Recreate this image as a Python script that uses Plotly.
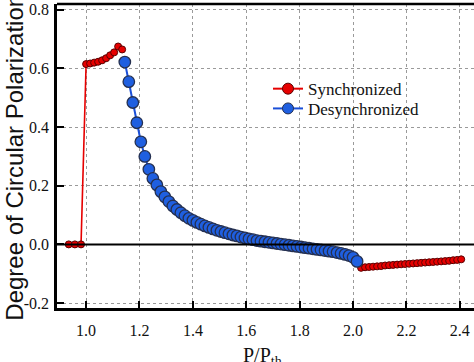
import plotly.graph_objects as go

# --- data ---
sync_x_low = [0.935, 0.958, 0.981, 1.000, 1.015, 1.030, 1.045, 1.060, 1.075, 1.090, 1.105, 1.120, 1.135]
sync_y_low = [0.0, 0.0, 0.0, 0.615, 0.617, 0.620, 0.623, 0.628, 0.635, 0.645, 0.655, 0.675, 0.665]

desync_x = [1.145, 1.160, 1.175, 1.190, 1.205, 1.220, 1.235, 1.250, 1.265, 1.280,
            1.295, 1.310, 1.325, 1.340, 1.355, 1.370, 1.385, 1.400, 1.415, 1.430,
            1.445, 1.460, 1.475, 1.490, 1.505, 1.520, 1.535, 1.550, 1.565, 1.580,
            1.595, 1.610, 1.625, 1.640, 1.655, 1.670, 1.685, 1.700, 1.715, 1.730,
            1.745, 1.760, 1.775, 1.790, 1.805, 1.820, 1.835, 1.850, 1.865, 1.880,
            1.895, 1.910, 1.925, 1.940, 1.955, 1.970, 1.985, 2.000, 2.015]
desync_y = [0.622, 0.555, 0.484, 0.415, 0.350, 0.300, 0.256, 0.225, 0.203, 0.180,
            0.162, 0.146, 0.131, 0.119, 0.108, 0.098, 0.089, 0.082, 0.075, 0.069,
            0.063, 0.058, 0.053, 0.048, 0.044, 0.040, 0.036, 0.032, 0.029, 0.025,
            0.022, 0.019, 0.016, 0.013, 0.011, 0.009, 0.007, 0.005, 0.003, 0.001,
            -0.001, -0.003, -0.005, -0.007, -0.009, -0.011, -0.013, -0.015, -0.017, -0.019,
            -0.021, -0.023, -0.025, -0.028, -0.031, -0.034, -0.038, -0.044, -0.058]

sync_x_high = [2.030, 2.045, 2.060, 2.075, 2.090, 2.105, 2.120, 2.135, 2.150, 2.165,
               2.180, 2.195, 2.210, 2.225, 2.240, 2.255, 2.270, 2.285, 2.300, 2.315,
               2.330, 2.345, 2.360, 2.375, 2.390, 2.405]
sync_y_high = [-0.080, -0.078, -0.077, -0.076, -0.075, -0.074, -0.072, -0.071, -0.070, -0.069,
               -0.068, -0.067, -0.066, -0.065, -0.064, -0.063, -0.062, -0.061, -0.060, -0.059,
               -0.058, -0.057, -0.056, -0.054, -0.053, -0.051]

x_ticks = [1.0, 1.2, 1.4, 1.6, 1.8, 2.0, 2.2, 2.4]
y_ticks = [-0.2, 0.0, 0.2, 0.4, 0.6, 0.8]
x_range = [0.891, 2.453]
y_range = [-0.217, 0.82]

RED = "#e60000"
RED_EDGE = "#5a0000"
BLUE = "#1f5fe0"
BLUE_LINE = "#1a4fd8"
BLUE_EDGE = "#253050"
SERIF = "Liberation Serif, Times New Roman, serif"
SANS = "Liberation Sans, Arial, sans-serif"

fig = go.Figure()

# synchronized (two segments)
fig.add_trace(go.Scatter(
    x=sync_x_low + [None] + sync_x_high,
    y=sync_y_low + [None] + sync_y_high,
    mode="lines+markers", showlegend=False,
    line=dict(color=RED, width=1.6),
    marker=dict(size=7, color=RED, line=dict(color=RED_EDGE, width=1)),
))
# desynchronized
fig.add_trace(go.Scatter(
    x=desync_x, y=desync_y,
    mode="lines+markers", showlegend=False,
    line=dict(color=BLUE_LINE, width=2),
    marker=dict(size=11.5, color=BLUE, line=dict(color=BLUE_EDGE, width=1.3)),
))

# legend entries
fig.add_trace(go.Scatter(
    x=[None], y=[None], name="Synchronized", mode="lines+markers",
    line=dict(color=RED, width=2),
    marker=dict(size=11, color=RED, line=dict(color=RED_EDGE, width=1)),
    legend="legend",
))
fig.add_trace(go.Scatter(
    x=[None], y=[None], name="Desynchronized", mode="lines+markers",
    line=dict(color=BLUE_LINE, width=2),
    marker=dict(size=11, color=BLUE, line=dict(color=BLUE_EDGE, width=1)),
    legend="legend2",
))

axis_common = dict(
    showgrid=True, gridcolor="#9a9a9a", griddash="dot", gridwidth=1,
    showline=True, linecolor="black", linewidth=2.5,
    ticks="inside", ticklen=7, tickwidth=2, tickcolor="black",
    tickfont=dict(family=SERIF, size=16, color="#111"),
    zeroline=False, automargin=False,
)

fig.update_layout(
    width=474, height=362,
    margin=dict(l=57, r=0, t=4, b=54, autoexpand=False),
    plot_bgcolor="white", paper_bgcolor="white",
    xaxis=dict(range=x_range, tickvals=x_ticks, ticktext=[f"{v:.1f}" for v in x_ticks],
               mirror=False, ticklabelstandoff=6, **axis_common),
    yaxis=dict(range=y_range, tickvals=y_ticks, ticktext=[f"{v:.1f}" for v in y_ticks],
               mirror=False, ticklabelstandoff=2, **axis_common),
    legend=dict(x=0.506, y=0.72, xanchor="left", yanchor="middle",
                bgcolor="rgba(0,0,0,0)", borderwidth=0,
                font=dict(family=SERIF, size=17, color="#111")),
    legend2=dict(x=0.506, y=0.655, xanchor="left", yanchor="middle",
                 bgcolor="rgba(0,0,0,0)", borderwidth=0,
                 font=dict(family=SERIF, size=17, color="#111")),
    showlegend=True,
)

# zero line and top border
fig.add_shape(type="line", xref="paper", yref="y", x0=0, x1=1, y0=0, y1=0,
              line=dict(color="black", width=2))
fig.add_shape(type="line", xref="paper", yref="paper", x0=0, x1=1, y0=1, y1=1,
              line=dict(color="black", width=2.5))

# axis titles
fig.add_annotation(text="Degree of Circular Polarization", textangle=-90,
                   xref="paper", yref="paper", x=-0.102, y=0.496,
                   xanchor="center", yanchor="middle", showarrow=False,
                   font=dict(family=SANS, size=24, color="#111"))
fig.add_annotation(text="P/P<sub>th</sub>",
                   xref="paper", yref="paper", x=0.494, y=-0.112,
                   xanchor="center", yanchor="top", showarrow=False,
                   font=dict(family=SERIF, size=20, color="#111"))

fig.write_html("out.html", config={"displayModeBar": False},
               post_script="document.body.style.margin='0';document.body.style.overflow='hidden';")
